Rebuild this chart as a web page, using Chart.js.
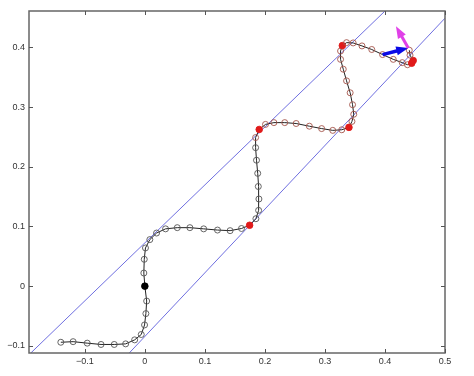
<!DOCTYPE html>
<html lang="en">
  <head>
    <meta charset="UTF-8" />
    <title>Trajectory</title>
    <script src="https://cdn.jsdelivr.net/npm/chart.js@4.4.1/dist/chart.umd.min.js"></script>
    <style>
      body { margin: 0; background: #fff; }
      #wrap { width: 474px; height: 376px; position: relative; }
    </style>
  </head>
  <body>
    <div id="wrap"><canvas id="trajChart"></canvas></div>

    <script>
      // path samples (bottom-left end -> top-right end)
      const trajX = [-0.140, -0.1195, -0.096, -0.073, -0.051, -0.032, -0.017, -0.006, -0.0005, 0.0017, 0.003,
        0, -0.0017, -0.001, 0.001, 0.0083, 0.0195, 0.0345, 0.054, 0.075, 0.098, 0.121, 0.142, 0.161,
        0.1745, 0.185, 0.1895, 0.19, 0.189, 0.188, 0.186, 0.1845, 0.1845, 0.1905,
        0.201, 0.215, 0.233, 0.252, 0.274, 0.2945, 0.313, 0.328, 0.34,
        0.345, 0.348, 0.346, 0.342, 0.336, 0.3305, 0.326, 0.326, 0.329,
        0.336, 0.347, 0.3617, 0.378, 0.396, 0.4138, 0.4288, 0.4375, 0.4445, 0.447, 0.4417, 0.4405];
      const trajY = [-0.094, -0.093, -0.0955, -0.0977, -0.0977, -0.0967, -0.090, -0.081, -0.065, -0.046, -0.025,
        0, 0.022, 0.045, 0.064, 0.078, 0.089, 0.096, 0.098, 0.098, 0.096, 0.094, 0.093, 0.0966,
        0.102, 0.113, 0.127, 0.146, 0.167, 0.189, 0.211, 0.232, 0.249, 0.2625,
        0.271, 0.274, 0.274, 0.2725, 0.268, 0.264, 0.261, 0.262, 0.266,
        0.276, 0.288, 0.304, 0.324, 0.344, 0.3635, 0.380, 0.394, 0.403,
        0.408, 0.4075, 0.4025, 0.3965, 0.388, 0.380, 0.3745, 0.371, 0.3735, 0.378, 0.387, 0.3953];
      const startIdx = 11;
      const contactIdx = [24, 33, 42, 51, 60, 61];
      const laterFrom = 32;

      // boundary lines
      const leftLineX = [-0.19, 0.40];
      const leftLineY = [-0.112, 0.461];
      const rightLineX = [-0.026, 0.5];
      const rightLineY = [-0.112, 0.449];

      // arrows (tail, tip)
      const blueArrowX = [0.396, 0.4388];
      const blueArrowY = [0.388, 0.399];
      const magentaArrowX = [0.4388, 0.4183];
      const magentaArrowY = [0.399, 0.4355];

      const xTicks = [-0.1, 0, 0.1, 0.2, 0.3, 0.4, 0.5];
      const yTicks = [-0.1, 0, 0.1, 0.2, 0.3, 0.4];

      const pts = (xs, ys) => xs.map((v, i) => ({ x: v, y: ys[i] }));

      const pointFill = trajX.map((_, i) =>
        i === startIdx ? "#000" : contactIdx.includes(i) ? "#e01a1a" : "rgba(255,255,255,0)"
      );
      const pointEdge = trajX.map((_, i) =>
        i === startIdx ? "#000" : contactIdx.includes(i) ? "#e01a1a" : i >= laterFrom ? "rgb(165,85,75)" : "#555"
      );
      const pointSize = trajX.map((_, i) =>
        i === startIdx || contactIdx.includes(i) ? 3.3 : 3
      );

      function fmt(v) {
        const s = String(Math.round(v * 10) / 10);
        return s.replace("-", "\u2212");
      }

      const axisDeco = {
        id: "axisDeco",
        afterDatasetsDraw(chart) {
          const { ctx, chartArea: a, scales } = chart;
          const sx = scales.x, sy = scales.y;
          ctx.save();

          // arrows
          const arrows = [
            { xs: blueArrowX, ys: blueArrowY, color: "#0a0ae6", w: 3.5, L: 12, W: 9 },
            { xs: magentaArrowX, ys: magentaArrowY, color: "#e040e8", w: 3, L: 12, W: 9 },
          ];
          arrows.forEach((ar) => {
            const x0 = sx.getPixelForValue(ar.xs[0]), y0 = sy.getPixelForValue(ar.ys[0]);
            const x1 = sx.getPixelForValue(ar.xs[1]), y1 = sy.getPixelForValue(ar.ys[1]);
            const ang = Math.atan2(y1 - y0, x1 - x0);
            const c = Math.cos(ang), s = Math.sin(ang);
            const bx = x1 - ar.L * c, by = y1 - ar.L * s;
            ctx.strokeStyle = ar.color;
            ctx.fillStyle = ar.color;
            ctx.lineWidth = ar.w;
            ctx.beginPath();
            ctx.moveTo(x0, y0);
            ctx.lineTo(bx + c, by + s);
            ctx.stroke();
            ctx.beginPath();
            ctx.moveTo(x1, y1);
            ctx.lineTo(bx - (ar.W / 2) * s, by + (ar.W / 2) * c);
            ctx.lineTo(bx + (ar.W / 2) * s, by - (ar.W / 2) * c);
            ctx.closePath();
            ctx.fill();
          });

          // frame
          ctx.strokeStyle = "#666";
          ctx.lineWidth = 1.5;
          ctx.strokeRect(a.left, a.top, a.right - a.left, a.bottom - a.top);

          // inward ticks on all four sides
          ctx.lineWidth = 1;
          ctx.strokeStyle = "#555";
          const tl = 4;
          ctx.beginPath();
          xTicks.forEach((v) => {
            const px = Math.round(sx.getPixelForValue(v)) + 0.5;
            ctx.moveTo(px, a.bottom);
            ctx.lineTo(px, a.bottom - tl);
            ctx.moveTo(px, a.top);
            ctx.lineTo(px, a.top + tl);
          });
          yTicks.forEach((v) => {
            const py = Math.round(sy.getPixelForValue(v)) + 0.5;
            ctx.moveTo(a.left, py);
            ctx.lineTo(a.left + tl, py);
            ctx.moveTo(a.right, py);
            ctx.lineTo(a.right - tl, py);
          });
          ctx.stroke();
          ctx.restore();
        },
      };

      const tickFont = { family: "'Liberation Sans', Arial, sans-serif", size: 9 };

      new Chart(document.getElementById("trajChart"), {
        type: "scatter",
        data: {
          datasets: [
            {
              data: pts(trajX, trajY),
              showLine: true,
              borderColor: "#222",
              borderWidth: 1,
              pointRadius: pointSize,
              pointBackgroundColor: pointFill,
              pointBorderColor: pointEdge,
              pointBorderWidth: 0.9,
            },
            {
              data: pts(leftLineX, leftLineY),
              showLine: true,
              borderColor: "#6f6fe0",
              borderWidth: 1,
              pointRadius: 0,
            },
            {
              data: pts(rightLineX, rightLineY),
              showLine: true,
              borderColor: "#6f6fe0",
              borderWidth: 1,
              pointRadius: 0,
            },
          ],
        },
        options: {
          responsive: true,
          maintainAspectRatio: false,
          animation: false,
          layout: { padding: { top: 11, right: 29, left: 0, bottom: 0 } },
          plugins: { legend: { display: false }, tooltip: { enabled: false } },
          scales: {
            x: {
              type: "linear",
              min: -0.193,
              max: 0.5,
              grid: { display: false, drawTicks: false },
              border: { display: false },
              afterBuildTicks: (s) => { s.ticks = xTicks.map((v) => ({ value: v })); },
              afterFit: (s) => { s.height = 23; },
              ticks: { font: tickFont, color: "#333", padding: 3, maxRotation: 0, callback: (v) => fmt(v) },
            },
            y: {
              type: "linear",
              min: -0.112,
              max: 0.461,
              grid: { display: false, drawTicks: false },
              border: { display: false },
              afterBuildTicks: (s) => { s.ticks = yTicks.map((v) => ({ value: v })); },
              afterFit: (s) => { s.width = 29; },
              ticks: { font: tickFont, color: "#333", padding: 4, callback: (v) => fmt(v) },
            },
          },
        },
        plugins: [axisDeco],
      });
    </script>
  </body>
</html>
